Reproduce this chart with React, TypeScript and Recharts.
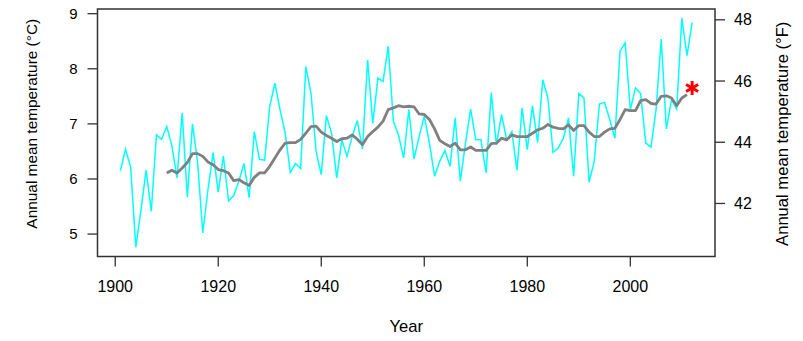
import React from "react";
import {
  ComposedChart,
  Line,
  Scatter,
  XAxis,
  YAxis,
  ReferenceArea,
} from "recharts";

// ---- data ----
const firstYear = 1901;
const annualTempC = [
  6.15, 6.54, 6.21, 4.76, 5.44, 6.16, 5.41, 6.8, 6.72, 6.95,
  6.6, 6.02, 7.2, 5.67, 7.0, 6.3, 5.02, 5.8, 6.48, 5.76,
  6.42, 5.6, 5.7, 5.96, 6.28, 5.66, 6.86, 6.36, 6.34, 7.32,
  7.74, 7.26, 6.83, 6.12, 6.28, 6.19, 8.04, 7.56, 6.5, 6.08,
  7.15, 6.83, 6.02, 6.71, 6.41, 6.77, 7.06, 6.54, 8.16, 7.01,
  7.83, 7.77, 8.41, 7.05, 6.8, 6.38, 7.26, 6.36, 6.77, 7.14,
  6.65, 6.05, 6.32, 6.52, 6.23, 7.11, 5.96, 6.65, 7.27, 6.71,
  6.71, 6.11, 7.57, 6.62, 7.17, 6.71, 6.86, 6.16, 7.29, 6.53,
  7.33, 6.66, 7.8, 7.47, 6.48, 6.56, 6.74, 7.11, 6.05, 7.55,
  7.47, 5.94, 6.32, 7.36, 7.39, 7.08, 6.74, 8.32, 8.47, 7.26,
  7.65, 7.55, 6.65, 6.58, 7.26, 8.54, 6.91, 7.44, 7.27, 8.92,
  8.24, 8.84,
];

const smoothFirstYear = 1910;
const smoothTempC = [
  6.11, 6.16, 6.11, 6.2, 6.3, 6.46, 6.46, 6.41, 6.31, 6.26,
  6.17, 6.15, 6.11, 5.97, 5.99, 5.93, 5.88, 6.03, 6.11, 6.11,
  6.23, 6.38, 6.53, 6.65, 6.66, 6.66, 6.72, 6.83, 6.95, 6.96,
  6.85, 6.79, 6.74, 6.68, 6.73, 6.74, 6.8, 6.72, 6.62, 6.77,
  6.86, 6.94, 7.05, 7.26, 7.29, 7.33, 7.31, 7.32, 7.31, 7.18,
  7.17, 7.08, 6.91, 6.7, 6.64, 6.59, 6.65, 6.53, 6.53, 6.58,
  6.52, 6.52, 6.52, 6.64, 6.65, 6.74, 6.71, 6.8, 6.77, 6.77,
  6.77, 6.83, 6.89, 6.92, 6.99, 6.94, 6.92, 6.91, 6.98, 6.88,
  6.97, 6.97, 6.85, 6.77, 6.77, 6.85, 6.91, 6.92, 7.08, 7.26,
  7.24, 7.24, 7.42, 7.44, 7.37, 7.36, 7.5, 7.51, 7.47, 7.33,
  7.47, 7.53,
];

const starYears = [2012];
const starValues = [7.65];

const xTicks = [1900, 1920, 1940, 1960, 1980, 2000];
const cTicks = [5, 6, 7, 8, 9];
const fTicks = [42, 44, 46, 48];

const xDomain: [number, number] = [1896.56, 2016.44];
const cDomain: [number, number] = [4.593, 9.085];
const fDomain: [number, number] = [cDomain[0] * 1.8 + 32, cDomain[1] * 1.8 + 32];

const rows = annualTempC.map((t, i) => {
  const year = firstYear + i;
  const si = year - smoothFirstYear;
  return {
    year,
    temp: t,
    smooth: si >= 0 && si < smoothTempC.length ? smoothTempC[si] : null,
  };
});

const starData = starYears.map((y, i) => ({ year: y, star: starValues[i] }));

const FONT = "'Liberation Sans', Arial, Helvetica, sans-serif";
const AXIS_COLOR = "#333333";

const Asterisk = (props: any) => {
  const { cx, cy } = props;
  if (cx == null || cy == null) return null;
  const r = 7;
  const lines = [90, 30, -30].map((deg) => {
    const a = (deg * Math.PI) / 180;
    return (
      <line
        key={deg}
        x1={cx - r * Math.cos(a)}
        y1={cy - r * Math.sin(a)}
        x2={cx + r * Math.cos(a)}
        y2={cy + r * Math.sin(a)}
        stroke="#ff0000"
        strokeWidth={3}
        strokeLinecap="butt"
      />
    );
  });
  return <g>{lines}</g>;
};

export default function App() {
  return (
    <div style={{ position: "absolute", left: 0, top: 0, background: "#fff" }}>
      <ComposedChart
        width={803}
        height={341}
        data={rows}
        margin={{ top: 9, right: 0, bottom: 0, left: 0 }}
      >
        <XAxis
          dataKey="year"
          type="number"
          domain={xDomain}
          ticks={xTicks}
          allowDataOverflow
          height={84.5}
          axisLine={false}
          tickSize={10}
          tickMargin={14}
          tickLine={{ stroke: AXIS_COLOR, strokeWidth: 1.3 }}
          tick={{ fill: "#000", fontSize: 16, fontFamily: FONT }}
          label={{
            content: (p: any) => {
              const vb = p.viewBox;
              return (
                <text
                  x={vb.x + vb.width / 2}
                  y={vb.y + 69.5}
                  textAnchor="middle"
                  dominantBaseline="central"
                  fontSize={16.6}
                  fontFamily={FONT}
                  fill="#000"
                >
                  Year
                </text>
              );
            },
          }}
        />
        <YAxis
          yAxisId="left"
          orientation="left"
          type="number"
          domain={cDomain}
          ticks={cTicks}
          allowDataOverflow
          width={97.5}
          axisLine={false}
          tickSize={10}
          tickMargin={10}
          tickLine={{ stroke: AXIS_COLOR, strokeWidth: 1.3 }}
          tick={{ fill: "#000", fontSize: 15, fontFamily: FONT }}
          label={{
            content: (p: any) => {
              const vb = p.viewBox;
              const x = vb.x + 31;
              const y = vb.y + vb.height / 2 - 9;
              return (
                <text
                  x={x}
                  y={y}
                  transform={`rotate(-90 ${x} ${y})`}
                  textAnchor="middle"
                  dominantBaseline="central"
                  fontSize={15.4}
                  fontFamily={FONT}
                  fill="#000"
                >
                  Annual mean temperature (°C)
                </text>
              );
            },
          }}
        />
        <YAxis
          yAxisId="right"
          orientation="right"
          type="number"
          domain={fDomain}
          ticks={fTicks}
          allowDataOverflow
          width={88}
          axisLine={false}
          tickSize={10}
          tickMargin={9}
          tickLine={{ stroke: AXIS_COLOR, strokeWidth: 1.3 }}
          tick={{ fill: "#000", fontSize: 16, fontFamily: FONT }}
          label={{
            content: (p: any) => {
              const vb = p.viewBox;
              const x = vb.x + 67.5;
              const y = vb.y + vb.height / 2 + 1;
              return (
                <text
                  x={x}
                  y={y}
                  transform={`rotate(-90 ${x} ${y})`}
                  textAnchor="middle"
                  dominantBaseline="central"
                  fontSize={16.6}
                  fontFamily={FONT}
                  fill="#000"
                >
                  Annual mean temperature (°F)
                </text>
              );
            },
          }}
        />
        <Line
          yAxisId="left"
          dataKey="temp"
          type="linear"
          stroke="#00ffff"
          strokeWidth={1.5}
          dot={false}
          activeDot={false}
          isAnimationActive={false}
        />
        <Line
          yAxisId="left"
          dataKey="smooth"
          type="linear"
          stroke="#808080"
          strokeWidth={2.8}
          strokeLinejoin="round"
          dot={false}
          activeDot={false}
          connectNulls={false}
          isAnimationActive={false}
        />
        <Scatter
          yAxisId="left"
          data={starData}
          dataKey="star"
          shape={Asterisk}
          isAnimationActive={false}
        />
        <ReferenceArea
          yAxisId="left"
          x1={xDomain[0]}
          x2={xDomain[1]}
          y1={cDomain[0]}
          y2={cDomain[1]}
          fill="none"
          fillOpacity={0}
          stroke={AXIS_COLOR}
          strokeWidth={1.5}
          ifOverflow="visible"
        />
      </ComposedChart>
    </div>
  );
}
